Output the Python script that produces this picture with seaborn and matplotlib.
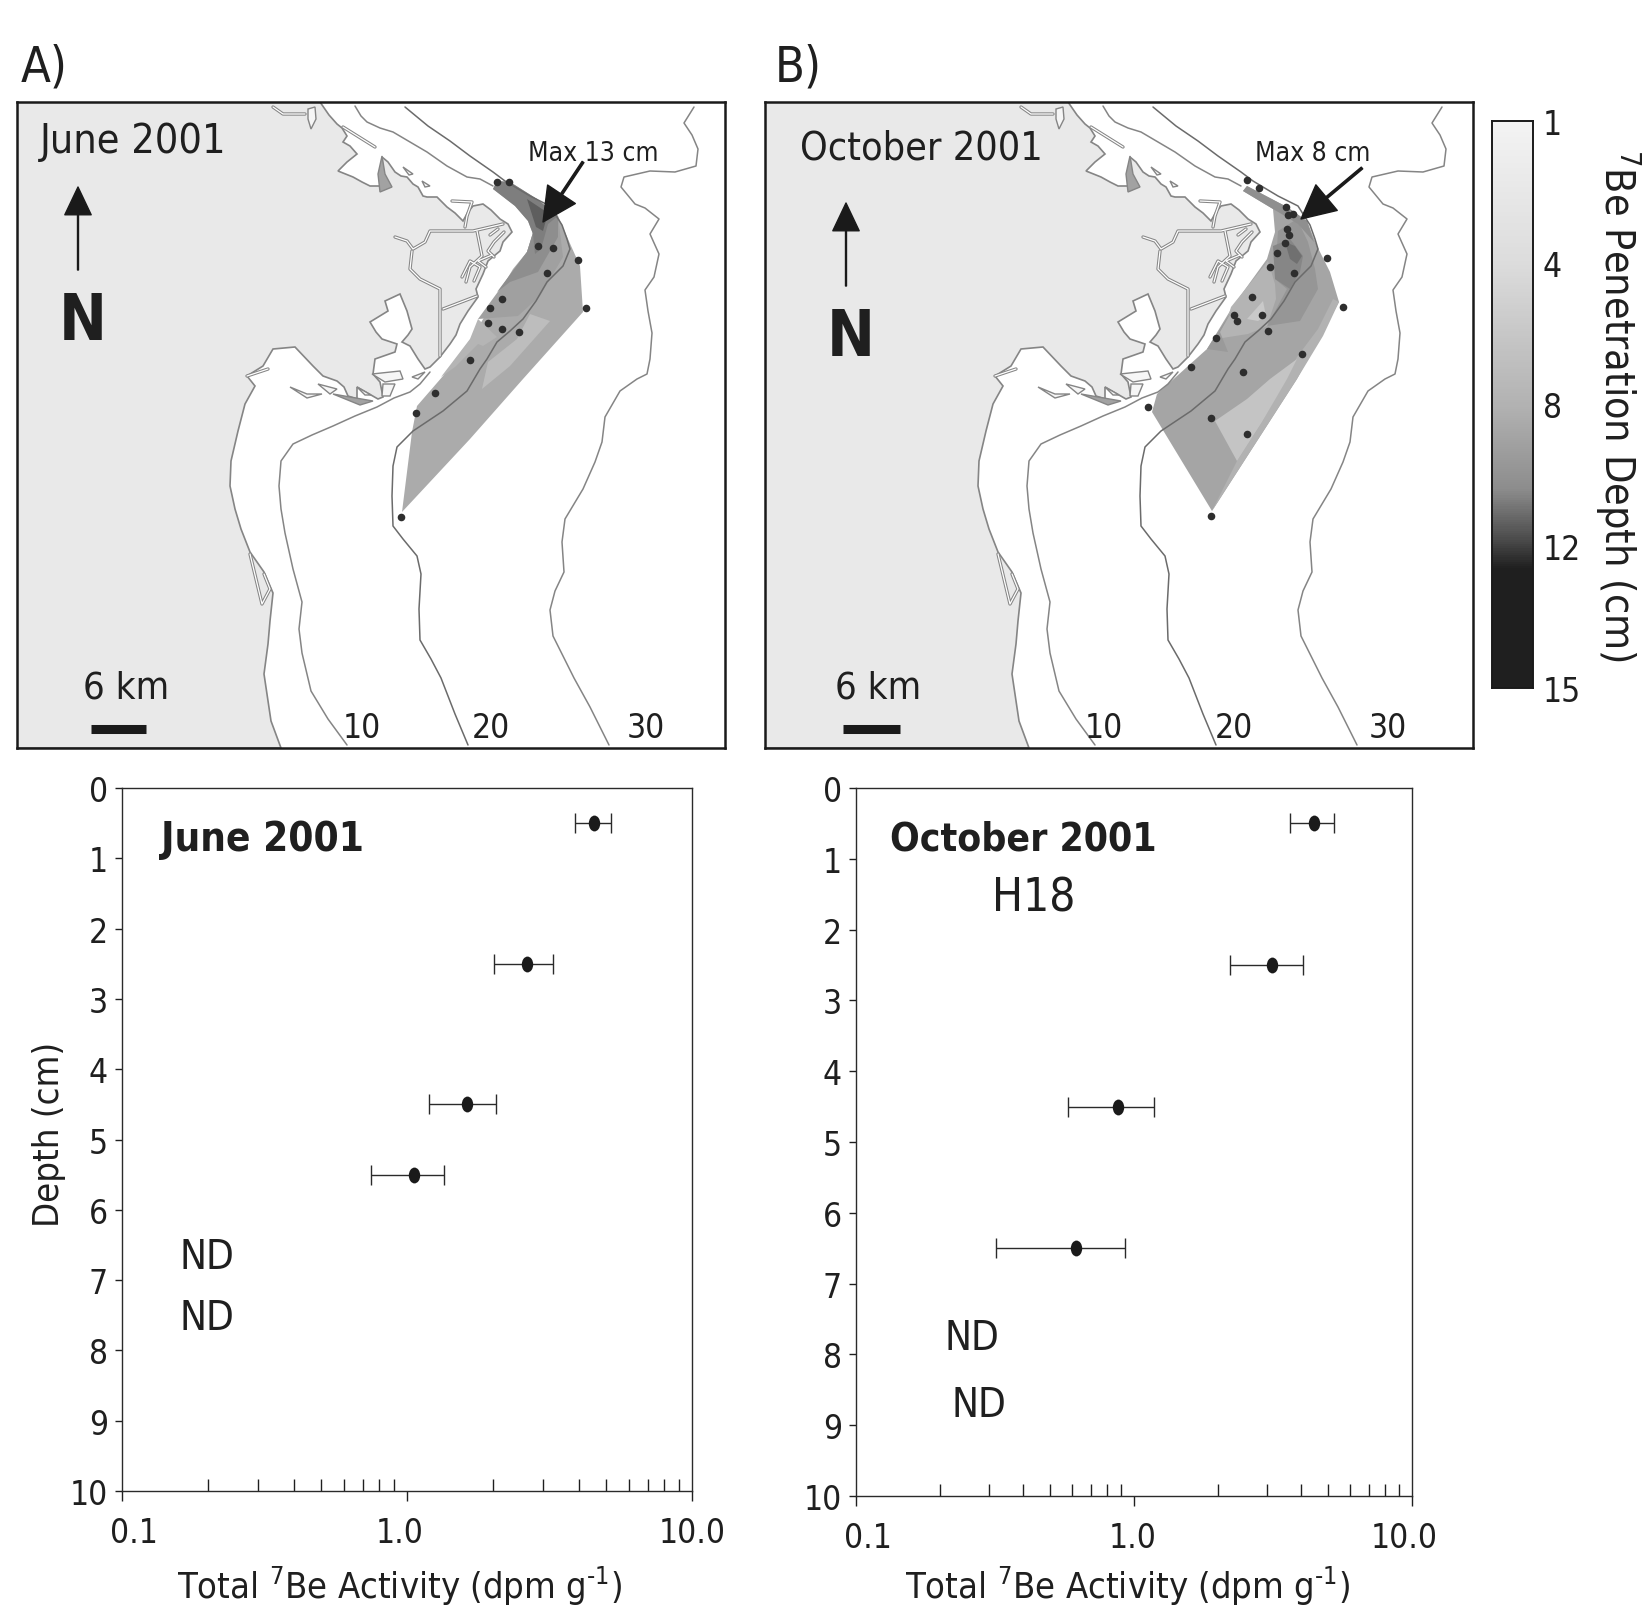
import matplotlib
matplotlib.use("Agg")
import matplotlib.pyplot as plt
from matplotlib.colors import LinearSegmentedColormap
from matplotlib.path import Path
from matplotlib.transforms import Affine2D, ScaledTranslation
from matplotlib.ticker import FixedLocator, NullFormatter
import numpy as np
import pandas as pd
import seaborn as sns

# Shoreline and isobaths, in map units shared by both panels
land_outline = [(17,103),(320,103),(329,116),(337,125),(342,129),(347,137),(343,143),(350,147),(357,155),(347,163),(338,172),(353,178),
    (362,183),(370,187),(380,187),(383,175),(382,158),(388,163),(395,173),(401,177),(407,178),(413,185),(418,188),(423,197),(427,198),(437,198),
    (447,208),(455,214),(463,222),(468,213),(473,207),(483,205),(491,211),(500,220),(508,225),(512,233),(503,243),(500,252),(488,262),
    (483,275),(476,290),(478,298),(468,312),(460,325),(456,336),(450,345),(440,358),(430,368),(425,370),(418,360),(410,347),(402,343),
    (408,336),(412,330),(407,312),(400,295),(385,302),(388,312),(370,323),(376,333),(382,340),(397,345),(395,353),(375,360),(373,375),
    (380,383),(383,398),(378,400),(357,388),(357,400),(348,397),(344,388),(337,382),(323,377),(313,367),(295,348),
    (273,350),(263,367),(247,377),(255,387),(245,405),(238,432),(231,462),(230,487),(235,510),(241,530),(250,553),(264,573),
    (273,594),(270,622),(268,645),(264,675),(271,722),(281,749),(17,749)]
isobath_10_north = [(355,107),(361,117),(367,123),(380,129),(393,133),(410,143),(427,153),(447,167),(467,178),(480,180),(493,187)]
isobath_10_south = [(430,373),(420,385),(410,393),(394,399),(377,408),(355,417),(333,427),(312,436),(293,445),(281,462),(279,487),(281,510),(285,534),
    (293,570),(302,603),(299,630),(302,654),(311,692),(328,720),(347,746)]
isobath_20 = [(405,108),(428,127),(450,142),(470,157),(493,173),(505,182),(530,197),(550,207),(562,226),(567,240),(570,250),(563,267),
    (547,283),(536,302),(523,320),(510,332),(497,343),(487,360),(480,370),(467,392),(443,412),(413,432),(397,448),(393,467),(392,497),
    (393,527),(403,540),(417,557),(421,575),(419,610),(420,641),(431,660),(441,679),(455,715),(468,746)]
isobath_30 = [(694,108),(684,124),(692,136),(698,150),(696,167),(675,173),(650,172),(624,178),(621,188),(635,205),(645,209),(659,220),
    (650,235),(659,255),(654,278),(645,291),(648,312),(652,334),(650,360),(647,375),(637,380),(620,392),(605,418),(602,443),
    (595,463),(583,490),(565,520),(562,543),(564,573),(555,592),(550,611),(553,637),(574,679),(590,708),(609,746)]
creeks = [
    [(273,108),(283,115),(305,115)],
    [(452,202),(472,203),(467,217),(465,228)],
    [(395,238),(407,242),(413,250),(425,243),(430,232),(473,232),(503,225)],
    [(412,252),(410,270),(420,280),(440,290),(440,310),(440,357)],
    [(443,310),(477,297)],
    [(477,232),(482,257),(470,268),(466,283)],
    [(343,128),(375,148)],
    [(250,555),(262,605),(270,590),(264,575)],
    [(247,377),(268,370)],
    [(504,233),(494,243),(488,252),(494,258)],
    [(490,236),(498,230)],
    [(486,268),(478,262),(492,256)],
    [(462,278),(470,262),(480,268),(474,282)],
]
marsh_dark = [
    [(382,157),(378,175),(380,193),(392,188),(385,175)],
    [(333,395),(373,402),(360,406)],
]
marsh_light = [
    [(308,110),(315,108),(316,120),(311,130),(308,120)],
    [(403,168),(413,175),(409,176)],
    [(422,182),(430,187),(425,188)],
    [(290,388),(307,395),(322,395),(307,399)],
    [(318,385),(337,390),(330,395)],
    [(357,388),(371,396),(365,396)],
    [(372,375),(400,372),(403,380),(385,383)],
    [(383,385),(395,385),(390,397),(382,397)],
    [(412,378),(425,373),(418,380)],
]

# Interpolated penetration depth bands for June 2001, as (shade, outline)
june_bands = [
    ("#ababab", [(493,190),(497,182),(510,183),(537,200),(558,217),(568,240),(580,267),(583,313),(523,380),
                 (470,440),(402,513),(412,433),(417,407),(443,377),(473,337),(513,270),(527,253),(533,235),(528,222),(515,207)]),
    ("#bdbdbd", [(550,322),(530,315),(517,340),(488,363),(482,390),(510,367)]),
    ("#b5b5b5", [(478,320),(470,340),(441,378),(455,368),(478,345),(483,347),(497,338)]),
    ("#a0a0a0", [(527,253),(478,320),(518,317),(540,297),(563,258),(558,217),(535,227)]),
    ("#8e8e8e", [(510,283),(538,273),(558,238),(558,217),(535,227),(527,253),(497,293)]),
    ("#7e7e7e", [(493,190),(497,182),(510,183),(537,200),(558,217),(548,225),(541,250),(535,255),(533,235),(528,222),(515,207)]),
    ("#5e5e5e", [(527,200),(548,214),(543,232),(536,228)]),
]
# Bands for October 2001
october_bands = [
    ("#a5a5a5", [(495,192),(499,187),(539,208),(559,222),(569,247),(582,273),(591,303),(572,337),(549,380),
                 (464,512),(404,413),(409,395),(459,350),(485,307),(519,260),(527,233),(525,210)]),
    ("#b2b2b2", [(591,303),(575,337),(549,380),(464,512),(489,462),(514,423),(539,378),(549,358),(570,330),(585,300)]),
    ("#c4c4c4", [(467,422),(499,400),(522,380),(549,360),(539,380),(514,423),(489,462)]),
    ("#969696", [(519,327),(552,322),(570,290),(567,270),(560,243),(549,220),(530,232),(527,280),(539,290)]),
    ("#b4b4b4", [(483,308),(520,262),(527,285),(528,300),(519,327),(500,335),(468,340),(480,318)]),
    ("#c9c9c9", [(499,320),(515,302),(518,317),(510,322)]),
    ("#9a9a9a", [(459,350),(480,353),(472,333),(485,310)]),
    ("#868686", [(525,247),(542,240),(555,257),(552,273),(542,290),(527,280)]),
    ("#707070", [(537,243),(547,247),(554,257),(549,265),(542,260)]),
    ("#8f8f8f", [(495,192),(499,187),(539,208),(559,222),(566,243),(550,225),(537,217),(525,210)]),
]

# Core stations
june_x = [497,509,538,553,578,547,586,502,490,488,502,519,470,435,416,401]
june_y = [183,183,247,249,261,274,309,300,309,324,330,333,361,394,414,518]
october_x = [499,511,538,540,545,539,541,537,529,522,546,579,595,504,486,489,514,520,468,554,443,495,400,463,499,463]
october_y = [181,189,208,216,215,230,236,244,254,268,274,259,308,298,316,322,316,332,339,355,368,373,408,419,435,517]

# Activity profiles at H18
june_depth = [0.5, 2.5, 4.5, 5.5]
june_activity = [4.53, 2.63, 1.62, 1.06]
june_low = [3.90, 2.02, 1.19, 0.75]
june_high = [5.20, 3.25, 2.05, 1.35]
october_depth = [0.5, 2.5, 4.5, 6.5]
october_activity = [4.45, 3.13, 0.877, 0.62]
october_low = [3.63, 2.21, 0.577, 0.32]
october_high = [5.25, 4.07, 1.18, 0.925]

depth_ticks = list(range(11))
activity_ticks = [0.1, 1.0, 10.0]
activity_labels = ["0.1", "1.0", "10.0"]
scale_labels = ["1", "4", "8", "12", "15"]

W, H = 1652, 1606
sns.set_theme(style="white")
plt.rcParams.update({
    "font.family": ["DejaVu Sans"],
    "font.stretch": "condensed",
    "mathtext.fontset": "custom",
    "mathtext.rm": "DejaVu Sans:stretch=condensed",
    "mathtext.default": "regular",
    "text.color": "#1f1f1f",
    "axes.labelcolor": "#1f1f1f",
    "xtick.color": "#1f1f1f",
    "ytick.color": "#1f1f1f",
})
fig = plt.figure(figsize=(W / 100, H / 100), dpi=100, facecolor="white")


def axes_px(x0, y0, x1, y1):
    return fig.add_axes([x0 / W, 1 - y1 / H, (x1 - x0) / W, (y1 - y0) / H])


def label(x, y, s, size, **kw):
    kw.setdefault("ha", "center")
    kw.setdefault("va", "center")
    fig.text(x / W, 1 - y / H, s, fontsize=size, **kw)


LINE = "#858585"


def draw_map(left, bands, xs, ys, title, title_size, title_x, title_y, note, note_x, tail, tip,
             north_x, north_top, km_x, bar, depth_x):
    shift = left - 17
    ax = axes_px(left, 103, left + 708, 749)
    ax.set_xlim(17, 725)
    ax.set_ylim(749, 103)
    ax.set_facecolor("white")
    ax.set(xticks=[], yticks=[])
    for s in ax.spines.values():
        s.set_linewidth(1.8)
        s.set_color("#1a1a1a")
    lx, ly = zip(*land_outline)
    ax.fill(lx, ly, facecolor="#e9e9e9", edgecolor=LINE, linewidth=1.2, zorder=1)
    for patch in marsh_dark:
        px, py = zip(*patch)
        ax.fill(px, py, facecolor="#a2a2a2", edgecolor=LINE, linewidth=1.0, zorder=2)
    for patch in marsh_light:
        px, py = zip(*patch)
        ax.fill(px, py, facecolor="#f6f6f6", edgecolor=LINE, linewidth=1.0, zorder=2)
    for creek in creeks:
        cx, cy = zip(*creek)
        ax.plot(cx, cy, color=LINE, lw=2.4, zorder=2, solid_capstyle="round")
        ax.plot(cx, cy, color="white", lw=0.9, zorder=2.1, solid_capstyle="round")
    for shade, poly in bands:
        bx, by = zip(*poly)
        ax.fill(bx, by, color=shade, linewidth=0, zorder=3)
    for line, col in ((isobath_10_north, LINE), (isobath_10_south, LINE),
                      (isobath_20, "#6b6b6b"), (isobath_30, LINE)):
        cx, cy = zip(*line)
        ax.plot(cx, cy, color=col, lw=1.1, zorder=4)
    sns.scatterplot(x=xs, y=ys, ax=ax, color="#2e2e2e", s=30, linewidth=0, legend=False, zorder=5)
    ax.set_xlim(17, 725)
    ax.set_ylim(749, 103)
    ax.annotate("", xy=tip, xytext=tail, zorder=6,
                arrowprops=dict(width=1.6, headwidth=24, headlength=24, color="#1a1a1a", shrink=0))
    ax.annotate("", xy=(north_x, north_top), xytext=(north_x, north_top + 83), zorder=6,
                arrowprops=dict(width=0.7, headwidth=19, headlength=20, color="#1a1a1a", shrink=0))
    ax.plot(bar, [730, 730], color="#1a1a1a", lw=6.5, solid_capstyle="butt", zorder=6)
    label(title_x + shift, title_y, title, title_size, ha="left")
    label(note_x + shift, 154, note, 19)
    label(north_x + 5 + shift, north_top + 134, "N", 46, fontweight="bold")
    label(km_x + shift, 689, "6 km", 27.5)
    for v, x in zip(["10", "20", "30"], depth_x):
        label(x, 728, v, 24)
    return ax


draw_map(17, june_bands, june_x, june_y, "June 2001", 29.5, 40, 142, "Max 13 cm", 593,
         (583, 163), (543, 223), 78, 188, 126, (91, 146), (362, 491, 646))
draw_map(765, october_bands, october_x, october_y, "October 2001", 28.3, 52, 149, "Max 8 cm", 565,
         (614, 169), (553, 220), 98, 204, 130, (95, 152), (1104, 1234, 1388))

label(21, 67, "A)", 35, ha="left")
label(775, 67, "B)", 35, ha="left")

# Grey scale bar
cmap = LinearSegmentedColormap.from_list("depth_grey", [
    (0.0, "#f3f3f3"), (0.25, "#dcdcdc"), (0.5, "#b2b2b2"), (0.65, "#8c8c8c"),
    (0.74, "#4a4a4a"), (0.79, "#1f1f1f"), (1.0, "#1f1f1f")])
cax = axes_px(1492, 122, 1533, 689)
cax.pcolormesh(np.linspace(0, 1, 256)[:, None], cmap=cmap, vmin=0, vmax=1, rasterized=True)
cax.set_ylim(256, 0)
cax.set(xticks=[], yticks=np.linspace(0, 256, len(scale_labels)))
cax.set_yticklabels(scale_labels, fontsize=24)
cax.tick_params(axis="y", length=0, pad=7, right=True, labelright=True, left=False, labelleft=False)
for s in cax.spines.values():
    s.set_linewidth(1.4)
    s.set_color("#1a1a1a")
label(1618, 405, "$^{7}$Be Penetration Depth (cm)", 29.6, rotation=270)

# Core points are drawn as upright ellipses
tall_dot = Path.unit_circle().transformed(Affine2D().scale(0.72, 1.0))


def draw_profile(box, depth, activity, low, high, shifts):
    ax = axes_px(*box)
    frame = pd.DataFrame({"activity": activity, "depth": depth})
    ax.errorbar(activity, depth,
                xerr=[np.subtract(activity, low), np.subtract(high, activity)],
                fmt="none", ecolor="#2a2a2a", elinewidth=1.0, capsize=7, capthick=1.0)
    sns.scatterplot(data=frame, x="activity", y="depth", ax=ax, color="#1a1a1a",
                    marker=tall_dot, s=130, linewidth=0, legend=False, zorder=5)
    ax.set_xscale("log")
    ax.set_xlim(0.1, 10)
    ax.set_ylim(10, 0)
    ax.set_xlabel("")
    ax.set_ylabel("")
    ax.xaxis.set_major_locator(FixedLocator(activity_ticks))
    ax.xaxis.set_minor_locator(FixedLocator(
        [m * d for d in (0.1, 1.0) for m in range(2, 10)]))
    ax.xaxis.set_minor_formatter(NullFormatter())
    ax.set_xticklabels(activity_labels, fontsize=24)
    ax.set_yticks(depth_ticks)
    ax.set_yticklabels([str(d) for d in depth_ticks], fontsize=24)
    ax.tick_params(axis="x", which="major", direction="out", length=7, width=1, pad=11, bottom=True)
    ax.tick_params(axis="x", which="minor", direction="in", length=9, width=1, bottom=True)
    ax.tick_params(axis="y", direction="out", length=5, width=1, pad=5, left=True)
    for tick, dx in zip(ax.get_xticklabels(), shifts):
        tick.set_transform(tick.get_transform() + ScaledTranslation(dx / 100, 0, fig.dpi_scale_trans))
    for s in ax.spines.values():
        s.set_linewidth(1.0)
        s.set_color("#2a2a2a")
    return ax


draw_profile((122, 789, 692, 1492), june_depth, june_activity, june_low, june_high, (12, -7, 0))
draw_profile((856, 789, 1412, 1497), october_depth, october_activity, october_low, october_high, (12, -1, -8))

label(161, 840, "June 2001", 29, ha="left", fontweight="bold")
label(890, 840, "October 2001", 28, ha="left", fontweight="bold")
label(1034, 899, "H18", 33)
label(207, 1258, "ND", 29)
label(207, 1319, "ND", 29)
label(972, 1339, "ND", 29)
label(979, 1406, "ND", 29)
label(49, 1134, "Depth (cm)", 26.2, rotation=90)
minus_one = r"$^{\text{-}1}$"
label(400, 1586, "Total $^{7}$Be Activity (dpm g" + minus_one + ")", 26)
label(1128, 1586, "Total $^{7}$Be Activity (dpm g" + minus_one + ")", 26)

fig.savefig("out.png", dpi=100, facecolor="white")
